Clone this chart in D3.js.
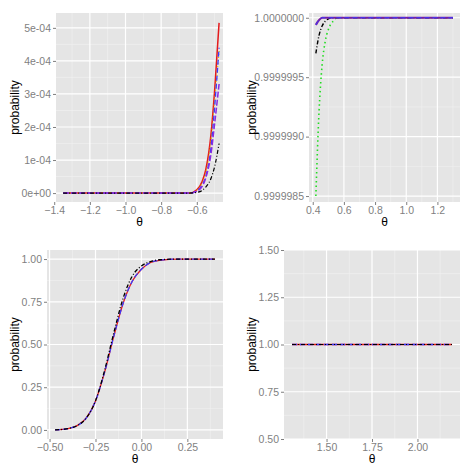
<!DOCTYPE html>
<html><head><meta charset="utf-8">
<script src="https://cdn.jsdelivr.net/npm/d3@7"></script>
<style>body{margin:0;background:#fff}svg{font-family:"Liberation Sans",Arial,sans-serif}</style>
</head><body><svg id="chart" width="474" height="474"></svg>
<script>
// panel 1 (lower tail)
var x1 = [-1.35, -1.0, -0.7, -0.64, -0.6, -0.57, -0.55, -0.52, -0.5, -0.475];
var p1Red = [0, 0, 0, 0.002e-4, 0.1e-4, 0.35e-4, 0.7e-4, 1.8e-4, 3.1e-4, 5.15e-4];
var p1Green = [0, 0, 0, 0.002e-4, 0.08e-4, 0.3e-4, 0.6e-4, 1.6e-4, 2.8e-4, 4.3e-4];
var p1Blue = [0, 0, 0, 0.001e-4, 0.06e-4, 0.25e-4, 0.5e-4, 1.4e-4, 2.6e-4, 4.4e-4];
var p1Purple = [0, 0, 0, 0.001e-4, 0.05e-4, 0.2e-4, 0.45e-4, 1.2e-4, 2.1e-4, 3.3e-4];
var p1Black = [0, 0, 0, 0, 0.02e-4, 0.08e-4, 0.18e-4, 0.45e-4, 0.8e-4, 1.5e-4];
// panel 2 (upper tail)
var x2 = [0.42, 0.44, 0.46, 0.48, 0.5, 0.53, 0.56, 0.6, 1.0, 1.3];
var p2Green = [0.9999985, 0.9999992, 0.9999996, 0.9999998, 0.9999999, 0.99999997, 1, 1, 1, 1];
var p2Black = [0.9999997, 0.99999985, 0.99999993, 0.99999997, 0.99999999, 1, 1, 1, 1, 1];
var p2Purple = [0.99999994, 0.99999998, 1, 1, 1, 1, 1, 1, 1, 1];
// panel 3 (middle)
var x3 = [-0.47, -0.4, -0.35, -0.3, -0.25, -0.2, -0.15, -0.1, -0.05, 0, 0.05, 0.1, 0.2, 0.4];
var p3Red = [0, 0.008, 0.025, 0.07, 0.17, 0.34, 0.55, 0.74, 0.87, 0.94, 0.98, 0.993, 1, 1];
var p3Black = [0, 0.008, 0.025, 0.07, 0.17, 0.35, 0.57, 0.77, 0.9, 0.96, 0.985, 0.996, 1, 1];
// panel 4 (flat)
var x4 = [1.31, 2.19];
var p4 = [1, 1];

var svg = d3.select("#chart");

var panels = [
  { box: [56, 13, 223, 202], lab: 15, xd: [-1.39, -0.453], yd: [-0.27e-4, 5.45e-4], xt: [-1.4, -1.2, -1.0, -0.8, -0.6], yt: [0, 1e-4, 2e-4, 3e-4, 4e-4, 5e-4],
    xf: d => d.toFixed(1).replace("-", "\u2212"), yf: d => d3.format(".0e")(d).replace(/e([+-])(\d)$/, "e$10$2"),
    x: x1, series: [[p1Red, "#e41a1c", null, 1.5], [p1Green, "#d4c000", "1,2", 1.2], [p1Blue, "#3a3aff", "5,3", 1.3], [p1Purple, "#8a2be2", "6,2", 1.5], [p1Black, "#000", "4,2,1,2", 1.2]] },
  { box: [309, 13, 460, 202], lab: 252, xd: [0.376, 1.345], yd: [0.99999845, 1.00000004], xt: [0.4, 0.6, 0.8, 1.0, 1.2], yt: [0.9999985, 0.999999, 0.9999995, 1],
    xf: d => d.toFixed(1), yf: d => d.toFixed(7),
    x: x2, series: [[p2Green, "#22dd22", "1.5,3", 1.6], [p2Black, "#000", "4,2,1,2", 1.4], [p2Purple, "#7a1fa2", null, 2.2], [p2Purple, "#3a3aff", "5,3", 1]] },
  { box: [47, 250, 223, 439], lab: 15, xd: [-0.514, 0.444], yd: [-0.053, 1.053], xt: [-0.5, -0.25, 0, 0.25], yt: [0, 0.25, 0.5, 0.75, 1],
    xf: d => d.toFixed(2).replace("-", "\u2212"), yf: d => d.toFixed(2),
    x: x3, series: [[p3Red, "#e41a1c", null, 1.3], [p3Red, "#3a3aff", "5,3", 1.3], [p3Black, "#000", "4,2,1,2", 1.3]] },
  { box: [284, 250, 460, 439], lab: 252, xd: [1.266, 2.234], yd: [0.5, 1.5], xt: [1.5, 1.75, 2.0], yt: [0.5, 0.75, 1, 1.25, 1.5],
    xf: d => d.toFixed(2), yf: d => d.toFixed(2),
    x: x4, series: [[p4, "#e41a1c", null, 1.5], [p4, "#3a3aff", "5,3", 1.3], [p4, "#000", "4,2,1,2", 1.2]] }
];

panels.forEach(p => {
  var [l, t, r, b] = p.box;
  var xs = d3.scaleLinear().domain(p.xd).range([l, r]);
  var ys = d3.scaleLinear().domain(p.yd).range([b, t]);
  var g = svg.append("g");
  g.append("rect").attr("x", l).attr("y", t).attr("width", r - l).attr("height", b - t).attr("fill", "#e5e5e5");
  // minor grid
  var mx = p.xt.slice(0, -1).map((d, i) => (d + p.xt[i + 1]) / 2);
  var my = p.yt.slice(0, -1).map((d, i) => (d + p.yt[i + 1]) / 2);
  mx.push(p.xt[p.xt.length - 1] + (p.xt[1] - p.xt[0]) / 2); mx.unshift(p.xt[0] - (p.xt[1] - p.xt[0]) / 2);
  my.push(p.yt[p.yt.length - 1] + (p.yt[1] - p.yt[0]) / 2); my.unshift(p.yt[0] - (p.yt[1] - p.yt[0]) / 2);
  mx.filter(d => d > p.xd[0] && d < p.xd[1]).forEach(d => g.append("line").attr("x1", xs(d)).attr("x2", xs(d)).attr("y1", t).attr("y2", b).attr("stroke", "#f2f2f2").attr("stroke-width", 0.6));
  my.filter(d => d > p.yd[0] && d < p.yd[1]).forEach(d => g.append("line").attr("y1", ys(d)).attr("y2", ys(d)).attr("x1", l).attr("x2", r).attr("stroke", "#f2f2f2").attr("stroke-width", 0.6));
  p.xt.forEach(d => g.append("line").attr("x1", xs(d)).attr("x2", xs(d)).attr("y1", t).attr("y2", b).attr("stroke", "#fff").attr("stroke-width", 1.2));
  p.yt.forEach(d => g.append("line").attr("y1", ys(d)).attr("y2", ys(d)).attr("x1", l).attr("x2", r).attr("stroke", "#fff").attr("stroke-width", 1.2));

  var line = d3.line().x((d, i) => xs(p.x[i])).y(d => ys(d)).curve(d3.curveMonotoneX);
  p.series.forEach(s => {
    g.append("path").attr("d", line(s[0])).attr("fill", "none").attr("stroke", s[1])
      .attr("stroke-width", s[3]).attr("stroke-dasharray", s[2]);
  });

  var ax = g.append("g").attr("transform", `translate(0,${b})`).call(d3.axisBottom(xs).tickValues(p.xt).tickFormat(p.xf).tickSize(3).tickPadding(2));
  var ay = g.append("g").attr("transform", `translate(${l},0)`).call(d3.axisLeft(ys).tickValues(p.yt).tickFormat(p.yf).tickSize(3).tickPadding(2));
  [ax, ay].forEach(a => {
    a.select(".domain").remove();
    a.selectAll("line").attr("stroke", "#7f7f7f");
    a.selectAll("text").attr("fill", "#7f7f7f").style("font-size", "10.5px");
  });
  g.append("text").attr("x", (l + r) / 2).attr("y", b + 24).attr("text-anchor", "middle").style("font-size", "12px").text("θ");
  g.append("text").attr("transform", `translate(${p.lab},${(t + b) / 2}) rotate(-90)`)
    .attr("text-anchor", "middle").attr("dy", "0.35em").style("font-size", "12px").text("probability");
});
</script></body></html>
